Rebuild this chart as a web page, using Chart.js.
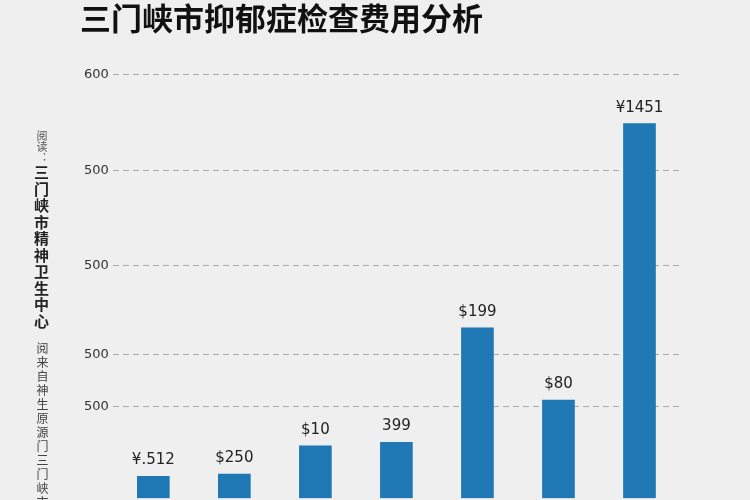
<!DOCTYPE html>
<html><head><meta charset="utf-8">
<script src="https://cdn.jsdelivr.net/npm/chart.js@4"></script>
<style>
html,body{margin:0;padding:0;background:#efefef;overflow:hidden;width:750px;height:500px;font-family:"Noto Sans CJK SC",sans-serif}
#wrap{position:absolute;left:0;top:0;width:750px;height:510px}
.v{position:absolute;writing-mode:vertical-rl;white-space:nowrap;color:#222;line-height:1}
</style></head><body>
<div id="wrap"><canvas id="c"></canvas></div>
<div class="v" style="left:36px;top:130px;font-size:11px;color:#555">阅读：</div>
<div class="v" style="left:34px;top:165px;font-size:15px;font-weight:bold;letter-spacing:1.5px">三门峡市精神卫生中心</div>
<div class="v" style="left:36px;top:342px;font-size:12px;color:#444;letter-spacing:2px">阅来自神生原源门三门峡市</div>
<script>
const categories = ["A", "B", "C", "D", "E", "F", "G"];
const costs = [31, 34, 74, 79, 241, 139, 530];
const costLabels = ["¥.512", "$250", "$10", "399", "$199", "$80", "¥1451"];
const tickValues = [130, 203, 329, 464, 600];
const tickLabels = ["500", "500", "500", "500", "600"];

const barLabels = {
  id: "barLabels",
  afterDatasetsDraw(chart) {
    const ctx = chart.ctx;
    ctx.save();
    ctx.font = "15px 'DejaVu Sans'";
    ctx.fillStyle = "#222";
    ctx.textAlign = "center";
    chart.getDatasetMeta(0).data.forEach((bar, i) => {
      ctx.fillText(costLabels[i], bar.x, bar.y - 12);
    });
    ctx.restore();
  }
};

new Chart(document.getElementById("c"), {
  type: "bar",
  data: {
    labels: categories,
    datasets: [{ data: costs, backgroundColor: "#1f77b4", barThickness: 32 }]
  },
  options: {
    responsive: true,
    maintainAspectRatio: false,
    animation: false,
    layout: { padding: { left: 80, right: 70, top: 0, bottom: 0 } },
    plugins: {
      legend: { display: false },
      tooltip: { enabled: false },
      title: {
        display: true,
        text: "三门峡市抑郁症检查费用分析",
        font: { size: 31, weight: "bold", family: "Noto Sans CJK SC" },
        color: "#111",
        align: "start",
        padding: { top: 0, bottom: 37 }
      }
    },
    scales: {
      x: { display: false, offset: true },
      y: {
        min: 0, max: 600,
        afterBuildTicks: (axis) => { axis.ticks = tickValues.map(v => ({ value: v })); },
        ticks: {
          callback: (v, i) => tickLabels[i],
          color: "#333",
          font: { size: 13, family: "DejaVu Sans" },
          padding: 4
        },
        grid: { color: "#aaa", drawTicks: false },
        border: { display: false, dash: [6, 4] }
      }
    }
  },
  plugins: [barLabels]
});
</script>
</body></html>
